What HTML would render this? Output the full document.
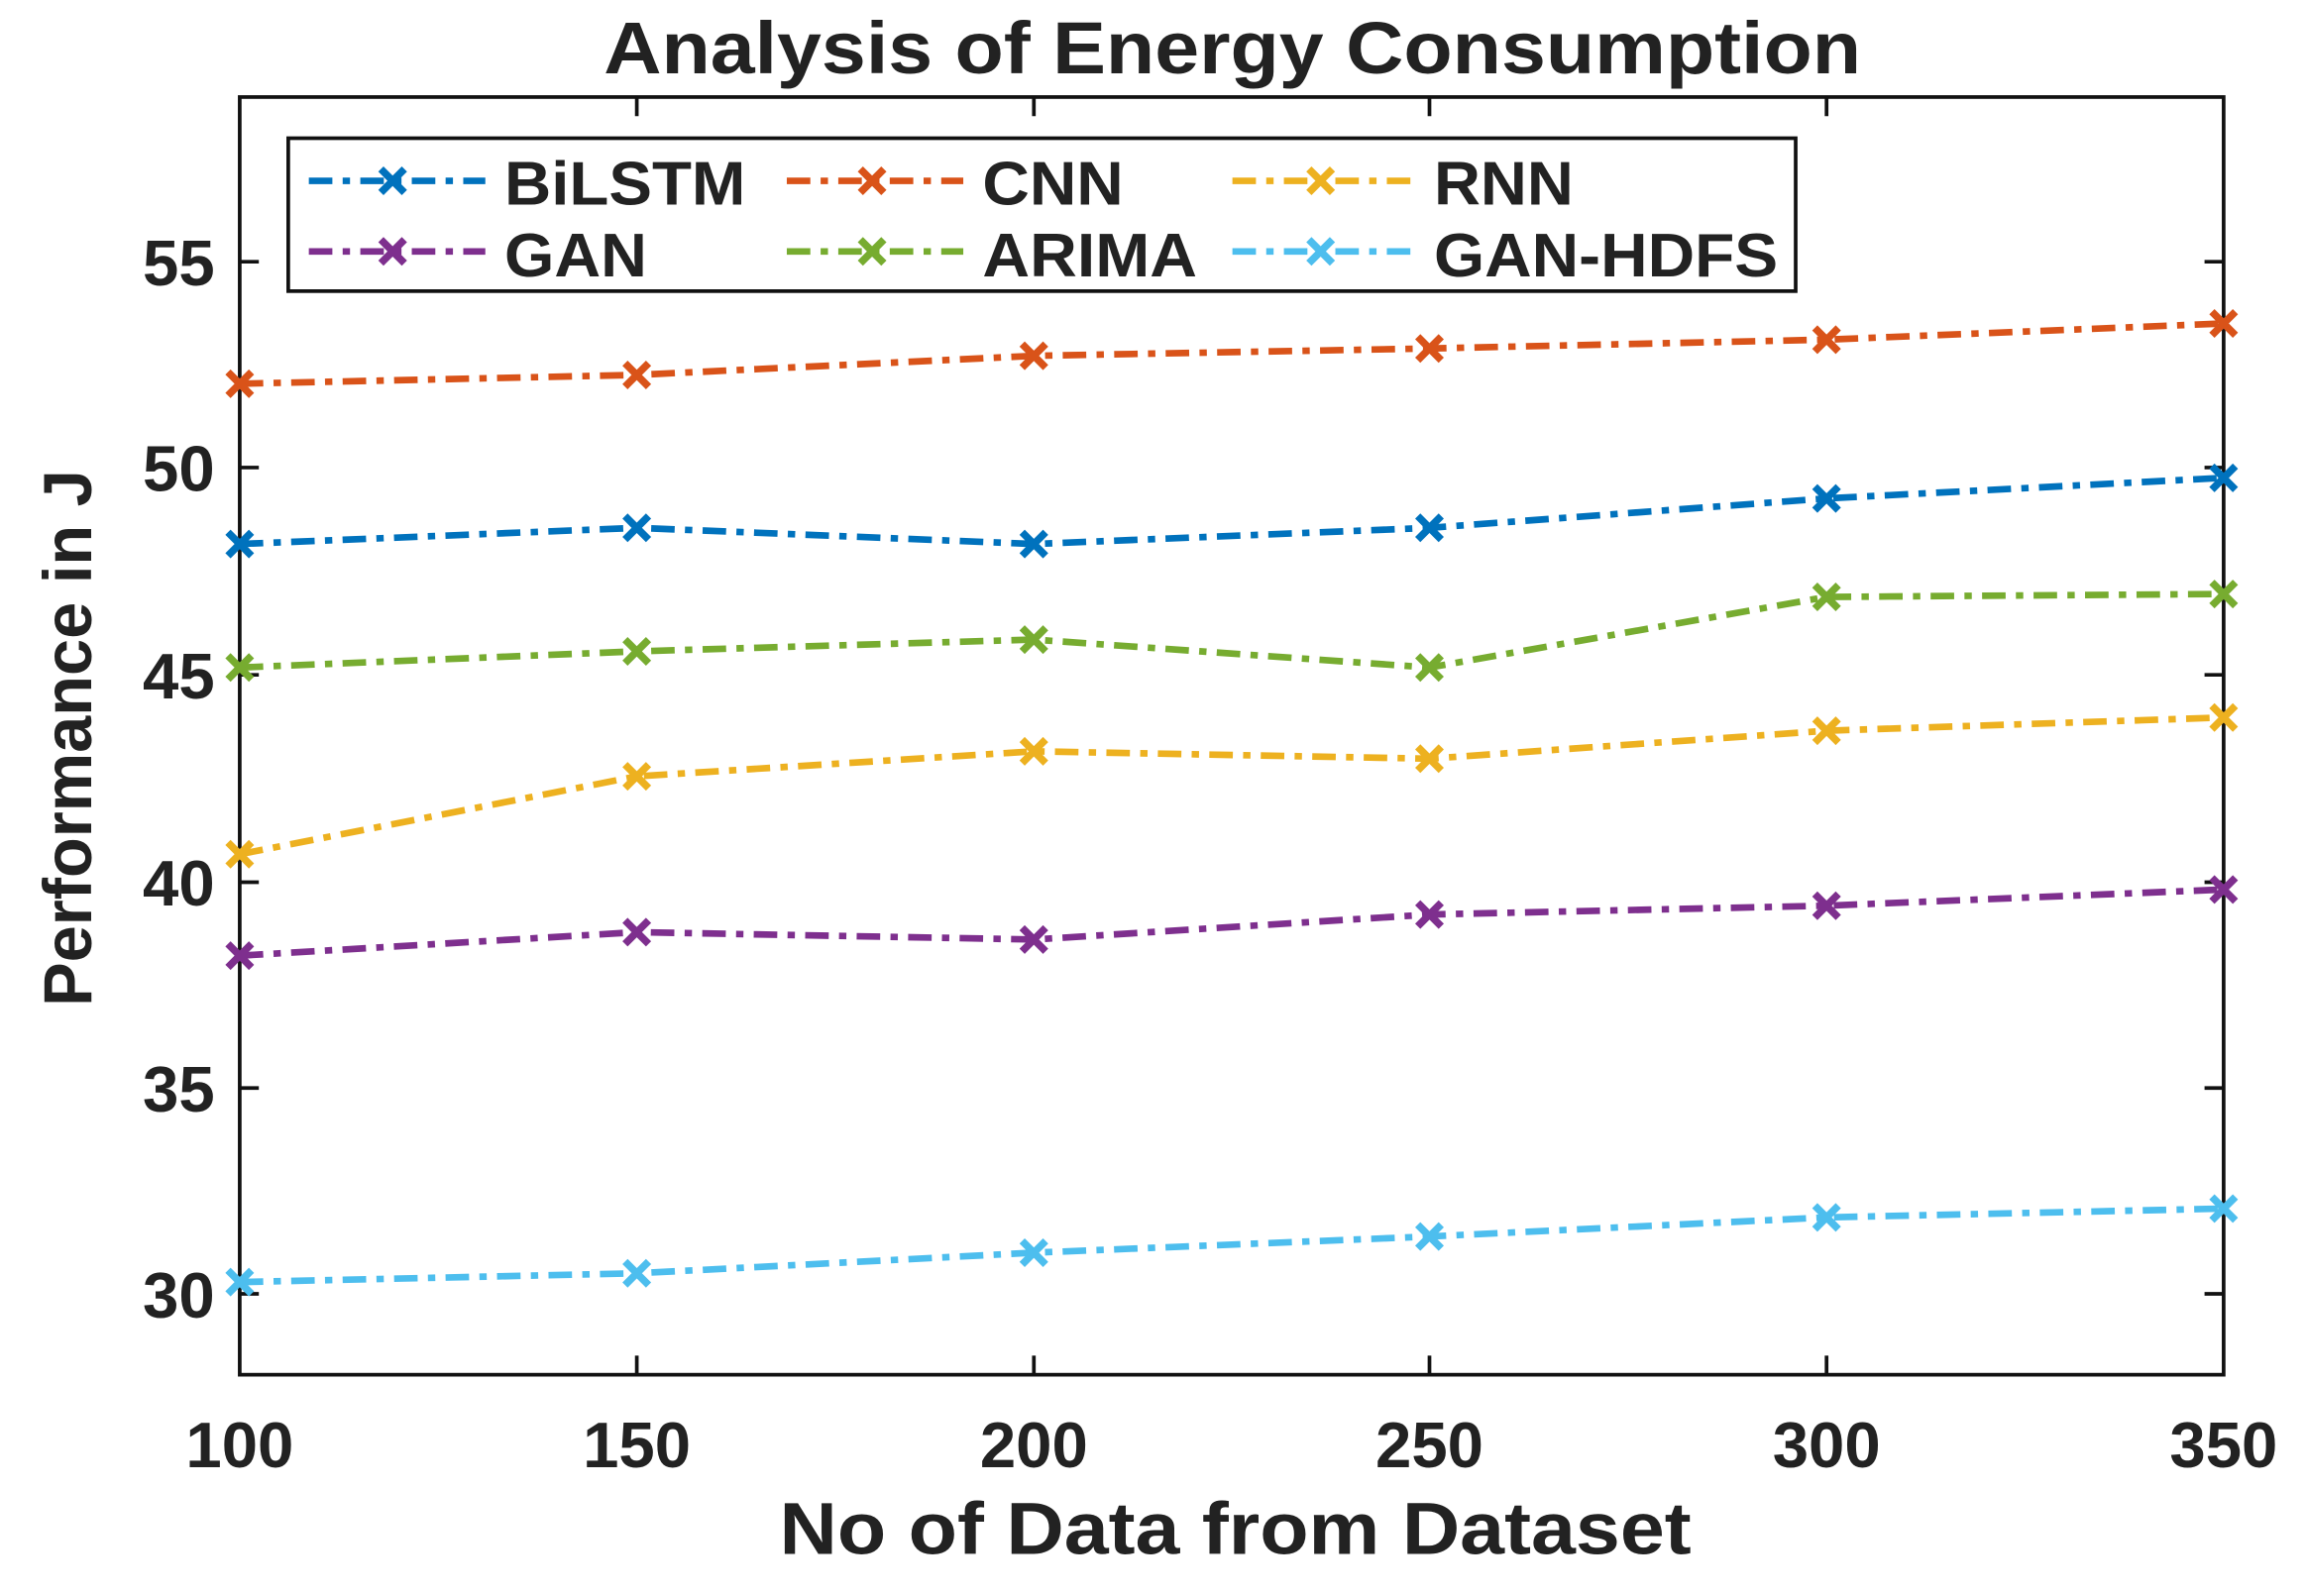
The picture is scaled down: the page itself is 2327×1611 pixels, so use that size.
<!DOCTYPE html>
<html><head><meta charset="utf-8"><style>
html,body{margin:0;padding:0;background:#fff;}
svg{display:block;}
text{font-family:"Liberation Sans",sans-serif;font-weight:bold;fill:#222;}
</style></head><body>
<svg width="2327" height="1611" viewBox="0 0 1568 1085.5" preserveAspectRatio="none" xmlns="http://www.w3.org/2000/svg">
<defs>
<g id="mk"><path d="M-8,-8L8,8M-8,8L8,-8" stroke-width="5"/></g>
</defs>
<rect width="1568" height="1086" fill="#fff"/>
<text x="838" y="50" font-size="50" text-anchor="middle" textLength="855" lengthAdjust="spacingAndGlyphs">Analysis of Energy Consumption</text>
<rect x="163" y="66" width="1349" height="869" fill="none" stroke="#111" stroke-width="2.5"/>
<g stroke="#111" stroke-width="2.5">
<line x1="163" y1="178" x2="176" y2="178"/><line x1="1512" y1="178" x2="1499" y2="178"/>
<line x1="163" y1="318" x2="176" y2="318"/><line x1="1512" y1="318" x2="1499" y2="318"/>
<line x1="163" y1="459" x2="176" y2="459"/><line x1="1512" y1="459" x2="1499" y2="459"/>
<line x1="163" y1="600" x2="176" y2="600"/><line x1="1512" y1="600" x2="1499" y2="600"/>
<line x1="163" y1="740" x2="176" y2="740"/><line x1="1512" y1="740" x2="1499" y2="740"/>
<line x1="163" y1="880" x2="176" y2="880"/><line x1="1512" y1="880" x2="1499" y2="880"/>
<line x1="433" y1="935" x2="433" y2="922"/><line x1="433" y1="66" x2="433" y2="79"/>
<line x1="703" y1="935" x2="703" y2="922"/><line x1="703" y1="66" x2="703" y2="79"/>
<line x1="972" y1="935" x2="972" y2="922"/><line x1="972" y1="66" x2="972" y2="79"/>
<line x1="1242" y1="935" x2="1242" y2="922"/><line x1="1242" y1="66" x2="1242" y2="79"/>
</g>
<g font-size="44" text-anchor="end">
<text x="146" y="194">55</text><text x="146" y="334">50</text><text x="146" y="475">45</text>
<text x="146" y="616">40</text><text x="146" y="756">35</text><text x="146" y="896">30</text>
</g>
<g font-size="44" text-anchor="middle">
<text x="163" y="998">100</text><text x="433" y="998">150</text><text x="703" y="998">200</text>
<text x="972" y="998">250</text><text x="1242" y="998">300</text><text x="1512" y="998">350</text>
</g>
<text x="840" y="1057" font-size="50" text-anchor="middle" textLength="620" lengthAdjust="spacingAndGlyphs">No of Data from Dataset</text>
<text transform="translate(62,502) rotate(-90)" font-size="46" text-anchor="middle" textLength="365" lengthAdjust="spacingAndGlyphs">Performance in J</text>

<g fill="none" stroke-width="4.5" stroke-dasharray="16,7,5,7">
<polyline stroke="#D95319" points="163,261 433,255 703,242 972,237 1242,231 1512,220"/>
<polyline stroke="#0072BD" points="163,370 433,359 703,370 972,359 1242,339 1512,325"/>
<polyline stroke="#77AC30" points="163,454 433,443 703,435 972,454 1242,406 1512,404"/>
<polyline stroke="#EDB120" points="163,581 433,528 703,511 972,516 1242,497 1512,488"/>
<polyline stroke="#7E2F8E" points="163,650 433,634 703,639 972,622 1242,616 1512,605"/>
<polyline stroke="#4DBEEE" points="163,872 433,866 703,852 972,841 1242,828 1512,822"/>
</g>
<g stroke="#D95319"><use href="#mk" x="163" y="261"/><use href="#mk" x="433" y="255"/><use href="#mk" x="703" y="242"/><use href="#mk" x="972" y="237"/><use href="#mk" x="1242" y="231"/><use href="#mk" x="1512" y="220"/></g>
<g stroke="#0072BD"><use href="#mk" x="163" y="370"/><use href="#mk" x="433" y="359"/><use href="#mk" x="703" y="370"/><use href="#mk" x="972" y="359"/><use href="#mk" x="1242" y="339"/><use href="#mk" x="1512" y="325"/></g>
<g stroke="#77AC30"><use href="#mk" x="163" y="454"/><use href="#mk" x="433" y="443"/><use href="#mk" x="703" y="435"/><use href="#mk" x="972" y="454"/><use href="#mk" x="1242" y="406"/><use href="#mk" x="1512" y="404"/></g>
<g stroke="#EDB120"><use href="#mk" x="163" y="581"/><use href="#mk" x="433" y="528"/><use href="#mk" x="703" y="511"/><use href="#mk" x="972" y="516"/><use href="#mk" x="1242" y="497"/><use href="#mk" x="1512" y="488"/></g>
<g stroke="#7E2F8E"><use href="#mk" x="163" y="650"/><use href="#mk" x="433" y="634"/><use href="#mk" x="703" y="639"/><use href="#mk" x="972" y="622"/><use href="#mk" x="1242" y="616"/><use href="#mk" x="1512" y="605"/></g>
<g stroke="#4DBEEE"><use href="#mk" x="163" y="872"/><use href="#mk" x="433" y="866"/><use href="#mk" x="703" y="852"/><use href="#mk" x="972" y="841"/><use href="#mk" x="1242" y="828"/><use href="#mk" x="1512" y="822"/></g>

<rect x="196" y="94" width="1025" height="104" fill="#fff" stroke="#111" stroke-width="2.5"/>
<g fill="none" stroke-width="4.5" stroke-dasharray="16,7,5,7">
<line x1="210" y1="123" x2="330" y2="123" stroke="#0072BD"/>
<line x1="535" y1="123" x2="655" y2="123" stroke="#D95319"/>
<line x1="838" y1="123" x2="962" y2="123" stroke="#EDB120"/>
<line x1="210" y1="171" x2="330" y2="171" stroke="#7E2F8E"/>
<line x1="535" y1="171" x2="655" y2="171" stroke="#77AC30"/>
<line x1="838" y1="171" x2="962" y2="171" stroke="#4DBEEE"/>
</g>
<use href="#mk" x="267" y="123" stroke="#0072BD"/>
<use href="#mk" x="593" y="123" stroke="#D95319"/>
<use href="#mk" x="898" y="123" stroke="#EDB120"/>
<use href="#mk" x="267" y="171" stroke="#7E2F8E"/>
<use href="#mk" x="593" y="171" stroke="#77AC30"/>
<use href="#mk" x="898" y="171" stroke="#4DBEEE"/>
<g font-size="42">
<text x="343" y="139" textLength="164" lengthAdjust="spacingAndGlyphs">BiLSTM</text><text x="668" y="139" textLength="96" lengthAdjust="spacingAndGlyphs">CNN</text><text x="975" y="139" textLength="95" lengthAdjust="spacingAndGlyphs">RNN</text>
<text x="343" y="188" textLength="97" lengthAdjust="spacingAndGlyphs">GAN</text><text x="668" y="188" textLength="146" lengthAdjust="spacingAndGlyphs">ARIMA</text><text x="975" y="188" textLength="234" lengthAdjust="spacingAndGlyphs">GAN-HDFS</text>
</g>
</svg>
</body></html>
